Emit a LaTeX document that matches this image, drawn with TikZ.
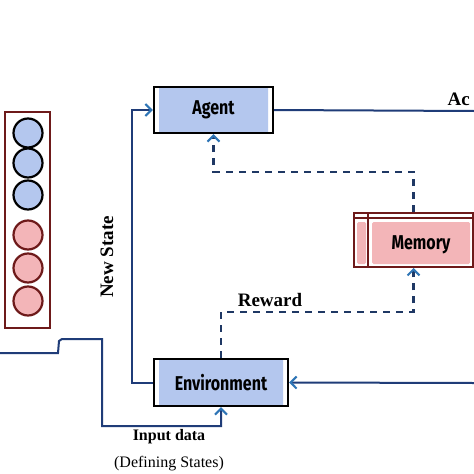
\documentclass[tikz,border=0pt]{standalone}
\usepackage{fontspec}
\setmainfont{Liberation Serif}
\newfontfamily\boxfont[FakeStretch=0.8]{Fira Sans}
\usetikzlibrary{arrows.meta}
\definecolor{linkblue}{HTML}{1F3C78}
\definecolor{tipblue}{HTML}{2E75B6}
\definecolor{dashnavy}{HTML}{1F3864}
\definecolor{cellblue}{HTML}{B4C7EE}
\definecolor{cellpink}{HTML}{F3B5B8}
\definecolor{colborder}{HTML}{6E1A1A}
\tikzset{
    boxnode/.style={draw=black, line width=2.4, fill=white, font=\boxfont\bfseries\fontsize{20}{20}\selectfont,
        path picture={\fill[#1, rounded corners=1.5] ([shift={(5,-5)}]path picture bounding box.north west)
            rectangle ([shift={(-5,5)}]path picture bounding box.south east);}},
    flow/.style={draw=linkblue, line width=2},
    dashlink/.style={draw=dashnavy, line width=2.4, dash pattern=on 7 off 6},
    tip/.style={-{Straight Barb[length=6,width=12,line width=2,color=tipblue]}},
    lbl/.style={font=\bfseries\fontsize{19}{19}\selectfont},
}
\begin{document}
\begin{tikzpicture}[x=1pt, y=-1pt]
    \clip (0,0) rectangle (474,474);
    \fill[white] (0,0) rectangle (474,474);
    % state column
    \node[draw=colborder, line width=2, minimum width=45, minimum height=216, inner sep=0] (column) at (27.5,220) {};
    \foreach \y in {133,163,195}
        \filldraw[fill=cellblue, draw=black, line width=2.2] (28,\y) circle (14.5);
    \foreach \y in {235,268,301}
        \filldraw[fill=cellpink, draw=colborder, line width=2.2] (28,\y) circle (14.5);
    % boxes
    \node[boxnode=cellblue, minimum width=119, minimum height=46, inner sep=0] (agent) at (213.5,110) {Agent};
    \node[boxnode=cellblue, minimum width=134, minimum height=47, inner sep=0] (env) at (221,382.5) {Environment};
    \node[draw=colborder, line width=2, fill=white, minimum width=119, minimum height=54, inner sep=0] (memframe) at (413.5,240) {};
    \fill[cellpink, rounded corners=1.5] (372,222) rectangle (470,264);
    \fill[cellpink, rounded corners=1.5] (357,222) rectangle (366,264);
    \draw[colborder, line width=2] (memframe.north west) ++(0,6) -- ++(119,0);
    \draw[colborder, line width=2] (memframe.north west) ++(15,0) -- ++(0,54);
    \node[font=\boxfont\bfseries\fontsize{20}{20}\selectfont] (memory) at (421,245) {Memory};
    % connectors
    \coordinate (actend) at (474,111);
    \coordinate (envin) at (474,383);
    \coordinate (inputin) at (0,353);
    \draw[flow] (agent.east) -- (actend);
    \node[lbl, anchor=base west] (action) at (444,105) {Ac};
    \draw[flow, tip] (envin) -- (env.east);
    \draw[flow, tip] (env.west) -- ++(-21,0) |- (agent.west);
    \node[lbl, rotate=90] (newstate) at (107,257) {New State};
    \draw[flow, tip] (inputin) -- (58,353) -- (59,341) -- (62,339) -- (102,339) -- (102,426) -| (env.south);
    \node[lbl, font=\bfseries\fontsize{16}{16}\selectfont] (input) at (169,437) {Input data};
    \node[font=\fontsize{16}{16}\selectfont] (defining) at (169,464) {(Defining States)};
    \draw[dashlink, tip] (memframe.north) -- ++(0,-40) -| (agent.south);
    \draw[dashlink, tip] (env.north) -- ++(0,-46) -| (memframe.south);
    \node[lbl] (reward) at (270,300) {Reward};
\end{tikzpicture}
\end{document}
